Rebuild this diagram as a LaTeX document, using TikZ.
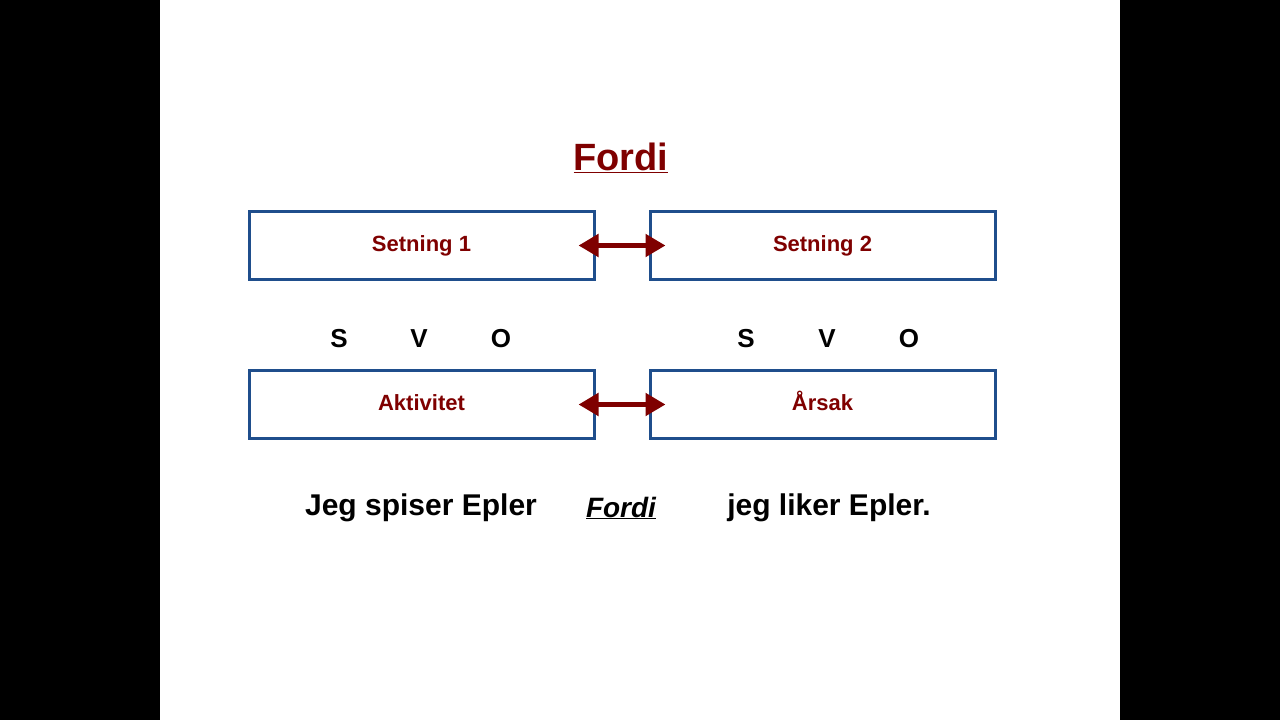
\documentclass[tikz,border=0pt]{standalone}
\usepackage{fontspec}
\setmainfont{Liberation Sans}
\usetikzlibrary{arrows.meta}
\definecolor{bx}{HTML}{1F4E8C}
\definecolor{dr}{HTML}{7F0000}
\begin{document}
\begin{tikzpicture}[x=1pt,y=-1pt,
  box/.style={draw=bx,line width=3pt,minimum width=345pt,minimum height=68pt,inner sep=0pt,text=dr,text height=16pt,text depth=4pt,font=\fontsize{22}{26}\selectfont\bfseries},
  lab/.style={font=\fontsize{26}{30}\selectfont\bfseries},
  snt/.style={font=\fontsize{30}{34}\selectfont\bfseries},
  arr/.style={draw=dr,line width=5pt,{Triangle[length=20pt,width=22pt]}-{Triangle[length=20pt,width=22pt]},shorten <=-17pt,shorten >=-17pt}]
\fill[black] (0,0) rectangle (1280,720);
\fill[white] (160,0) rectangle (1120,720);
\useasboundingbox (0,0) rectangle (1280,720);
\node[text=dr,font=\fontsize{38}{42}\selectfont\bfseries] (t) at (621,158) {\underline{Fordi}};
\node[box] (s1) at (421.5,245.5) {Setning 1};
\node[box] (s2) at (822.5,245.5) {Setning 2};
\node[box] (a) at (421.5,404.5) {Aktivitet};
\node[box] (r) at (822.5,404.5) {Årsak};
\draw[arr] (s1.east) -- (s2.west);
\draw[arr] (a.east) -- (r.west);
\node[lab] (l1) at (339,339) {S};
\node[lab] (l2) at (419,339) {V};
\node[lab] (l3) at (501,339) {O};
\node[lab] (l4) at (746,339) {S};
\node[lab] (l5) at (827,339) {V};
\node[lab] (l6) at (909,339) {O};
\node[snt] (b1) at (421,508) {Jeg spiser Epler};
\node[snt,font=\fontsize{28}{32}\selectfont\bfseries\itshape] (b2) at (621,508) {\underline{Fordi}};
\node[snt] (b3) at (829,508) {jeg liker Epler.};
\end{tikzpicture}
\end{document}
